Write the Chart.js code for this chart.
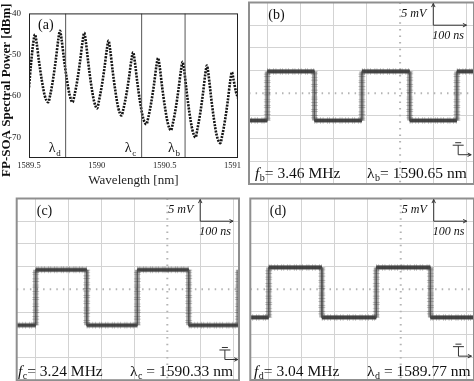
<!DOCTYPE HTML>
<html>
<head>
<title>FP-SOA spectrum and detected signals</title>
<script src="https://cdn.jsdelivr.net/npm/chart.js@4.4.0/dist/chart.umd.min.js"></script>
<style>
body { margin: 0; background: #fff; }
#holder { position: relative; width: 474px; height: 381px; overflow: hidden; }
#holder canvas { position: absolute; left: 0; top: 0; }
</style>
</head>
<body>
<div id="holder">
    <canvas id="spectrum" width="474" height="381"></canvas>
    <canvas id="scopeB" width="474" height="381"></canvas>
    <canvas id="scopeC" width="474" height="381"></canvas>
    <canvas id="scopeD" width="474" height="381"></canvas>
</div>
<script>
// (a) spectrum
var wavelength = [
    1589.500, 1589.514, 1589.532, 1589.544, 1589.556, 1589.574, 1589.594, 1589.616, 1589.642,
    1589.656, 1589.678, 1589.698, 1589.716, 1589.728, 1589.740, 1589.758, 1589.778, 1589.800, 1589.821,
    1589.835, 1589.857, 1589.877, 1589.895, 1589.907, 1589.919, 1589.937, 1589.957, 1589.979, 1590.002,
    1590.014, 1590.036, 1590.056, 1590.074, 1590.086, 1590.098, 1590.116, 1590.136, 1590.158, 1590.182,
    1590.195, 1590.217, 1590.237, 1590.255, 1590.267, 1590.279, 1590.297, 1590.317, 1590.339, 1590.365,
    1590.379, 1590.401, 1590.421, 1590.439, 1590.451, 1590.463, 1590.481, 1590.501, 1590.523, 1590.546,
    1590.560, 1590.582, 1590.602, 1590.620, 1590.632, 1590.644, 1590.662, 1590.682, 1590.704, 1590.728,
    1590.739, 1590.761, 1590.781, 1590.799, 1590.811, 1590.823, 1590.841, 1590.861, 1590.883, 1590.910,
    1590.923, 1590.945, 1590.965, 1590.983, 1590.995, 1591.007, 1591.025, 1591.040
];
var power = [
    -57.9, -52.5, -47.0, -45.1, -47.1, -51.7, -56.1, -59.9, -61.5,
    -59.8, -55.8, -51.1, -46.3, -44.2, -46.3, -51.1, -55.8, -59.8, -61.5,
    -59.8, -56.0, -51.4, -46.7, -44.7, -46.9, -52.0, -57.0, -61.2, -63.0,
    -61.4, -57.6, -53.2, -48.6, -46.6, -48.8, -53.8, -58.7, -62.9, -64.7,
    -63.2, -59.7, -55.5, -51.2, -49.4, -51.5, -56.4, -61.1, -65.1, -66.8,
    -65.2, -61.5, -57.2, -52.7, -50.8, -52.9, -57.8, -62.5, -66.6, -68.3,
    -66.6, -62.8, -58.3, -53.7, -51.7, -53.9, -59.0, -64.0, -68.2, -70.0,
    -68.3, -64.3, -59.6, -54.7, -52.6, -54.9, -60.1, -65.2, -69.5, -71.4,
    -69.7, -65.7, -61.1, -56.3, -54.2, -56.0, -59.0, -60.5
];
var lambdaLines = [1589.77, 1590.33, 1590.65];
var lambdaNames = ['d', 'c', 'b'];
var xTicksA = [1589.5, 1590, 1590.5, 1591];
var yTicksA = [-70, -60, -50, -40];

// (b)-(d) scope traces: edge times [ns], [low, high] levels [mV]
var timeDivs = [0, 100, 200, 300, 400, 500, 600];
var voltDivs = [-20, -15, -10, -5, 0, 5, 10, 15, 20];
var edgesB = [0, 142, 285, 429, 571];
var levelsB = [-6.0, 4.8];
var edgesC = [0, 155, 309, 465, 616];
var levelsC = [-7.9, 4.3];
var edgesD = [0, 161, 326, 490];
var levelsD = [-6.2, 4.8];

var serif = '"Liberation Serif", "Times New Roman", serif';
Chart.defaults.font.family = serif;
Chart.defaults.color = '#222';

function squareWave(edges, levels, xmin, xmax) {
    var state = 0;
    var pts = [{x: xmin, y: levels[0]}];
    edges.forEach(function (t) {
        pts.push({x: t, y: levels[state]});
        state = 1 - state;
        pts.push({x: t, y: levels[state]});
    });
    pts.push({x: xmax, y: levels[state]});
    return pts;
}

function isEdge(c) {
    return c.p0.parsed.x === c.p1.parsed.x;
}

function arrow(ctx, x0, y0, x1, y1) {
    var ang = Math.atan2(y1 - y0, x1 - x0);
    ctx.beginPath();
    ctx.moveTo(x0, y0);
    ctx.lineTo(x1, y1);
    ctx.moveTo(x1 - 4 * Math.cos(ang - 0.45), y1 - 4 * Math.sin(ang - 0.45));
    ctx.lineTo(x1, y1);
    ctx.lineTo(x1 - 4 * Math.cos(ang + 0.45), y1 - 4 * Math.sin(ang + 0.45));
    ctx.stroke();
}

function subText(ctx, x, base, head, headFont, sub, rest) {
    ctx.font = headFont;
    ctx.fillText(head, x, base);
    x += ctx.measureText(head).width + 0.5;
    ctx.font = '10px ' + serif;
    ctx.fillText(sub, x, base + 3);
    x += ctx.measureText(sub).width;
    ctx.font = '15.5px ' + serif;
    ctx.fillText(rest, x, base);
}

var spectrumDecor = {
    id: 'spectrumDecor',
    afterDraw: function (chart) {
        var ctx = chart.ctx, a = chart.chartArea, x = chart.scales.x;
        ctx.save();
        ctx.strokeStyle = '#222';
        ctx.lineWidth = 1;
        ctx.strokeRect(a.left + 0.5, a.top + 0.5, a.right - a.left - 1, a.bottom - a.top - 1);
        ctx.fillStyle = '#111';
        ctx.font = '14px ' + serif;
        ctx.fillText('(a)', a.left + 9, a.top + 16);
        lambdaLines.forEach(function (l, i) {
            var px = x.getPixelForValue(l);
            ctx.font = '14px ' + serif;
            ctx.fillText('\u03bb', px - 17, a.bottom - 6);
            ctx.font = '9px ' + serif;
            ctx.fillText(lambdaNames[i], px - 9.5, a.bottom - 2.5);
        });
        ctx.translate(6.5, 177);
        ctx.rotate(-Math.PI / 2);
        ctx.font = 'bold 13px ' + serif;
        ctx.textBaseline = 'middle';
        ctx.fillText('FP-SOA Spectral Power [dBm]', 0, 0);
        ctx.restore();
    }
};

var scopeDecor = {
    id: 'scopeDecor',
    beforeDatasetsDraw: function (chart) {
        var ctx = chart.ctx, a = chart.chartArea, x = chart.scales.x, y = chart.scales.y;
        var cx = x.getPixelForValue(400), cy = y.getPixelForValue(0);
        ctx.save();
        ctx.strokeStyle = '#b4b4b4';
        ctx.lineWidth = 2;
        ctx.setLineDash([1.5, 5.1]);
        ctx.beginPath();
        ctx.moveTo(cx, a.top);
        ctx.lineTo(cx, a.bottom);
        ctx.moveTo(a.left, cy);
        ctx.lineTo(a.right, cy);
        ctx.stroke();
        ctx.restore();
    },
    afterDraw: function (chart, args, o) {
        var ctx = chart.ctx, a = chart.chartArea, x = chart.scales.x, y = chart.scales.y;
        var x5 = x.getPixelForValue(500), x6 = x.getPixelForValue(600);
        var y15 = y.getPixelForValue(15), y20 = y.getPixelForValue(20);
        ctx.save();
        ctx.strokeStyle = '#8f8f8f';
        ctx.lineWidth = 2;
        ctx.strokeRect(a.left, a.top, a.right - a.left, a.bottom - a.top);

        ctx.fillStyle = '#111';
        ctx.font = '14px ' + serif;
        ctx.fillText('(' + o.name + ')', x.getPixelForValue(0) + 1, a.top + 16);

        // 5 mV / 100 ns scale
        ctx.strokeStyle = '#333';
        ctx.lineWidth = 1;
        arrow(ctx, x5, y15, x5, y20 + 1);
        arrow(ctx, x5, y15, x6, y15);
        ctx.font = 'italic 12px ' + serif;
        ctx.textAlign = 'right';
        ctx.textBaseline = 'middle';
        ctx.fillText('5 mV', x5 - 7, (y15 + y20) / 2);
        ctx.textAlign = 'left';
        ctx.textBaseline = 'alphabetic';
        ctx.fillText('100 ns', x5 - 1, y15 + 14);

        // trigger mark
        var c = x.getPixelForValue(575), t0 = y.getPixelForValue(o.trig);
        ctx.beginPath();
        ctx.moveTo(c - 3, t0); ctx.lineTo(c + 3, t0);
        ctx.moveTo(c - 5.5, t0 + 2.5); ctx.lineTo(c + 5.5, t0 + 2.5);
        ctx.moveTo(c, t0 + 2.5); ctx.lineTo(c, t0 + 12);
        ctx.stroke();
        arrow(ctx, c, t0 + 12, c + 13, t0 + 12);

        subText(ctx, o.fx, o.base, 'f', 'italic 15.5px ' + serif, o.name, '= ' + o.freq);
        subText(ctx, o.lx, o.base, '\u03bb', '15.5px ' + serif, o.name, o.eq + o.lam);
        ctx.restore();
    }
};

function makeScope(id, box, edges, levels, text) {
    var wave = squareWave(edges, levels, box.xmin, box.xmax);
    return new Chart(document.getElementById(id), {
        type: 'line',
        data: {
            datasets: [{
                data: wave,
                borderColor: 'rgba(60,60,60,0.35)',
                borderWidth: 7,
                borderDash: [0.7, 1.4, 0.7, 2.9, 0.7, 1.9, 0.7, 3.6],
                pointRadius: 0,
                segment: {
                    borderWidth: function (c) { return isEdge(c) ? 0 : 7; }
                }
            }, {
                data: wave,
                borderColor: 'rgba(80,80,80,0.5)',
                borderWidth: 5,
                pointRadius: 0,
                segment: {
                    borderWidth: function (c) { return isEdge(c) ? 0 : 5; }
                }
            }, {
                data: wave,
                borderColor: '#383838',
                borderWidth: 3.2,
                pointRadius: 0,
                segment: {
                    borderWidth: function (c) { return isEdge(c) ? 1.3 : 3.2; },
                    borderColor: function (c) { return isEdge(c) ? '#666' : '#383838'; }
                }
            }, {
                data: wave,
                borderColor: '#141414',
                borderWidth: 1.4,
                pointRadius: 0,
                segment: {
                    borderWidth: function (c) { return isEdge(c) ? 0.5 : 1.4; }
                }
            }]
        },
        options: {
            animation: false,
            responsive: false,
            devicePixelRatio: 1,
            layout: {padding: {left: box.left, top: box.top, right: 474 - box.right, bottom: 381 - box.bottom}},
            plugins: {legend: {display: false}, tooltip: {enabled: false}, scopeDecor: text},
            scales: {
                x: {
                    type: 'linear', min: box.xmin, max: box.xmax,
                    afterBuildTicks: function (s) { s.ticks = timeDivs.map(function (v) { return {value: v}; }); },
                    afterFit: function (s) { s.height = 0; },
                    ticks: {display: false},
                    border: {display: false},
                    grid: {
                        drawTicks: false,
                        color: function (c) { return c.tick && c.tick.value === 400 ? 'rgba(0,0,0,0)' : '#d3d3d3'; }
                    }
                },
                y: {
                    type: 'linear', min: -20, max: 20,
                    afterBuildTicks: function (s) { s.ticks = voltDivs.map(function (v) { return {value: v}; }); },
                    afterFit: function (s) { s.width = 0; },
                    ticks: {display: false},
                    border: {display: false},
                    grid: {
                        drawTicks: false,
                        color: function (c) { return c.tick && c.tick.value % 20 === 0 ? 'rgba(0,0,0,0)' : '#d3d3d3'; }
                    }
                }
            }
        },
        plugins: [scopeDecor]
    });
}

window.onload = function () {
    var datasets = [];
    lambdaLines.forEach(function (l) {
        datasets.push({data: [{x: l, y: -75}, {x: l, y: -40}], borderColor: '#555', borderWidth: 1, pointRadius: 0});
    });
    datasets.push({
        data: wavelength.map(function (w, i) { return {x: w, y: power[i]}; }),
        borderColor: '#151515',
        borderWidth: 2.6,
        borderDash: [2, 1.2],
        pointRadius: 0,
        cubicInterpolationMode: 'monotone'
    });

    new Chart(document.getElementById('spectrum'), {
        type: 'line',
        data: {datasets: datasets},
        options: {
            animation: false,
            responsive: false,
            devicePixelRatio: 1,
            layout: {padding: {left: 0, top: 3, right: 236, bottom: 191}},
            plugins: {legend: {display: false}, tooltip: {enabled: false}},
            scales: {
                x: {
                    type: 'linear', min: 1589.5, max: 1591.04,
                    afterBuildTicks: function (s) { s.ticks = xTicksA.map(function (v) { return {value: v}; }); },
                    afterFit: function (s) { s.height = 32; },
                    grid: {display: false, drawTicks: false},
                    border: {display: false},
                    ticks: {
                        callback: function (v) { return String(v); },
                        font: {size: 8.5}, padding: 3, maxRotation: 0, autoSkip: false
                    },
                    title: {display: true, text: 'Wavelength [nm]', font: {size: 13}, padding: {top: 0, bottom: 2}}
                },
                y: {
                    type: 'linear', min: -75, max: -40,
                    afterBuildTicks: function (s) { s.ticks = yTicksA.map(function (v) { return {value: v}; }); },
                    afterFit: function (s) { s.width = 29; },
                    grid: {display: false, drawTicks: false},
                    border: {display: false},
                    ticks: {callback: function (v) { return String(v); }, font: {size: 9}, padding: 8}
                }
            }
        },
        plugins: [spectrumDecor]
    });

    makeScope('scopeB', {left: 249, top: 2.5, right: 474, bottom: 184, xmin: -55.1, xmax: 622.6},
        edgesB, levelsB, {name: 'b', freq: '3.46 MHz', lam: '1590.65 nm', eq: '= ', fx: 255, lx: 367, base: 178, trig: -10.9});
    makeScope('scopeC', {left: 16.7, top: 198.5, right: 239, bottom: 380.2, xmin: -57.8, xmax: 617.9},
        edgesC, levelsC, {name: 'c', freq: '3.24 MHz', lam: '1590.33 nm', eq: ' = ', fx: 18, lx: 130, base: 376, trig: -12.8});
    makeScope('scopeD', {left: 250.3, top: 198.5, right: 474, bottom: 380, xmin: -55.8, xmax: 622.1},
        edgesD, levelsD, {name: 'd', freq: '3.04 MHz', lam: '1589.77 nm', eq: ' = ', fx: 254, lx: 367, base: 376, trig: -12.1});
};
</script>
</body>
</html>
